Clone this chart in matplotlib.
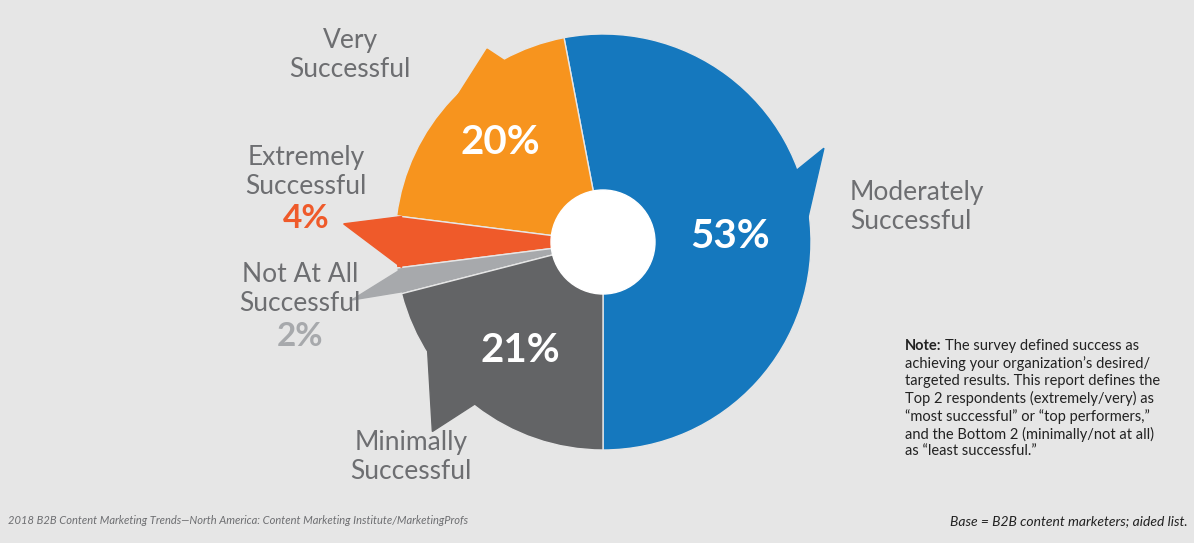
import numpy as np
import matplotlib
matplotlib.use("Agg")
import matplotlib.pyplot as plt
from matplotlib.patches import Polygon, Circle

categories = ["Moderately\nSuccessful", "Very\nSuccessful", "Extremely\nSuccessful",
              "Not At All\nSuccessful", "Minimally\nSuccessful"]
values = [53, 20, 4, 2, 21]
colors = ["#1578BE", "#F7941E", "#EF5A2A", "#A7A9AC", "#636466"]

W, H = 1194, 543
fig = plt.figure(figsize=(W / 100, H / 100), dpi=100, facecolor="#E6E6E6")
ax = fig.add_axes([0, 0, 1, 1])
ax.set_facecolor("#E6E6E6")
cx, cy, R = 603, H - 242, 208
start = -90
ax.pie(values, colors=colors, startangle=start, center=(cx, cy), radius=R,
       wedgeprops=dict(linewidth=1, edgecolor="#E6E6E6"), frame=True)
ax.add_patch(Circle((cx, cy), 52, color="white", zorder=5))
ax.set_xlim(0, W); ax.set_ylim(0, H); ax.set_aspect("equal")
ax.axis("off")

# angle boundaries
bounds = start + np.cumsum([0] + values) * 3.6
mids = (bounds[:-1] + bounds[1:]) / 2

def pt(a, r):
    return (cx + r * np.cos(np.radians(a)), cy + r * np.sin(np.radians(a)))

# pointers: (base angle1, base angle2, tip angle, tip radius)
pointers = [(20, 4, 23, 240), (118, 140, 121, 225), (172.8, 187.2, 176, 260),
            (187.6, 194, 193, 258), (210, 232, 228, 255)]
for (a1, a2, at, rt), c in zip(pointers, colors):
    ax.add_patch(Polygon([pt(a1, R - 5), pt(a2, R - 5), pt(at, rt)], color=c, zorder=1))

lab = "#6D6E71"
fs = 19
ax.text(850, H - 207, categories[0], fontsize=fs, color=lab, ha="left", va="center", family="Lato")
ax.text(350, H - 55, categories[1], fontsize=fs, color=lab, ha="center", va="center", family="Lato")
ax.text(306, H - 172, categories[2], fontsize=fs, color=lab, ha="center", va="center", family="Lato")
ax.text(306, H - 218, "4%", fontsize=24, color="#EF5A2A", ha="center", va="center", weight="bold", family="Lato")
ax.text(300, H - 289, categories[3], fontsize=fs, color=lab, ha="center", va="center", family="Lato")
ax.text(300, H - 336, "2%", fontsize=24, color="#A7A9AC", ha="center", va="center", weight="bold", family="Lato")
ax.text(411, H - 457, categories[4], fontsize=fs, color=lab, ha="center", va="center", family="Lato")

pc = dict(fontsize=29, color="white", weight="bold", ha="center", va="center", family="Lato", zorder=6)
ax.text(730, H - 237, f"{values[0]}%", **pc)
ax.text(500, H - 142, f"{values[1]}%", **pc)
ax.text(520, H - 350, f"{values[4]}%", **pc)

note = ("achieving your organization\u2019s desired/\ntargeted results. This report defines the\n"
        "Top 2 respondents (extremely/very) as\n\u201cmost successful\u201d or \u201ctop performers,\u201d\n"
        "and the Bottom 2 (minimally/not at all)\nas \u201cleast successful.\u201d")
ax.text(905, H - 346, "Note:", fontsize=10.5, weight="bold", color="#222222", va="center", family="Lato")
ax.text(945, H - 346, "The survey defined success as", fontsize=10.5, color="#222222", va="center", family="Lato")
ax.text(905, H - 356, note, fontsize=10.5, color="#222222", va="top", family="Lato", linespacing=1.25)
ax.text(8, H - 520, "2018 B2B Content Marketing Trends\u2014North America: Content Marketing Institute/MarketingProfs",
        fontsize=8, style="italic", color="#6D6E71", va="center", family="Lato")
ax.text(1188, H - 521, "Base = B2B content marketers; aided list.", fontsize=10, style="italic",
        color="#222222", va="center", ha="right", family="Lato")
fig.savefig("out.png", dpi=100, facecolor=fig.get_facecolor())
